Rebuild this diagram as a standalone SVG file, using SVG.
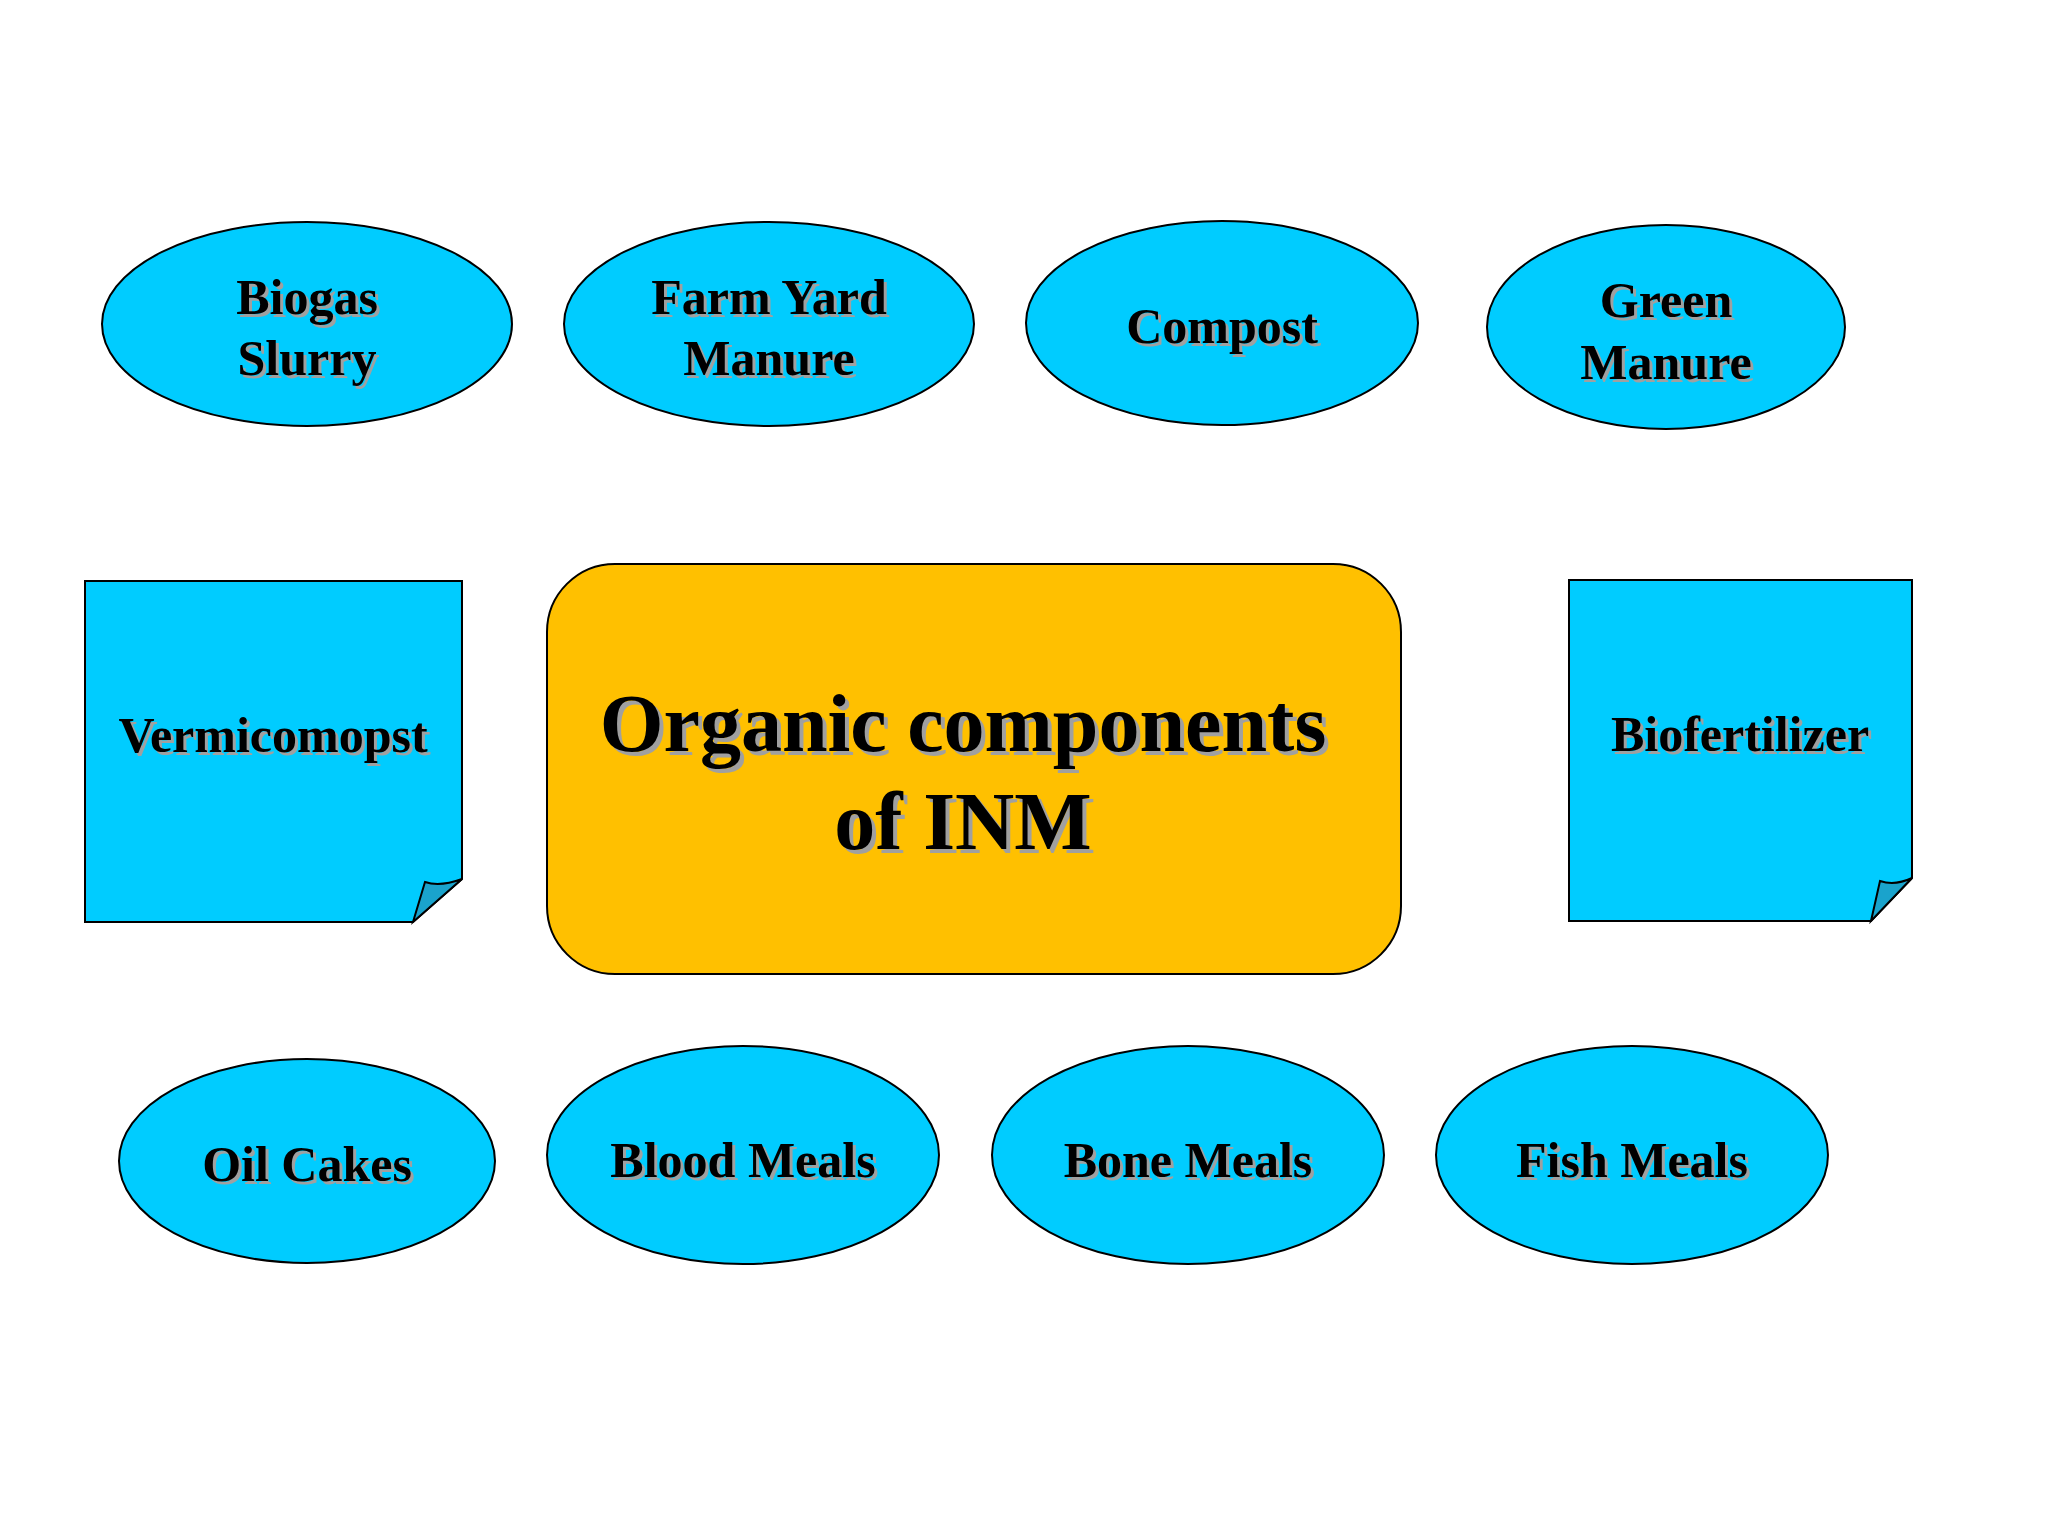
<svg xmlns="http://www.w3.org/2000/svg" width="2048" height="1536" viewBox="0 0 2048 1536">
<style>
.n{fill:#00ccff;stroke:#000;stroke-width:2}
.c{fill:#ffc000;stroke:#000;stroke-width:2}
.f{fill:#1aa3cc;stroke:#000;stroke-width:2}
text{font-family:"Liberation Serif","Times New Roman",serif;font-weight:bold;text-anchor:middle;fill:#000}
.s{fill:#a0a0a0}
.t{font-size:50px}
.b{font-size:82px}
</style>
<rect width="2048" height="1536" fill="#fff"/>
<g id="connectors"/>
<g id="biogas"><ellipse class="n" cx="307" cy="324" rx="205" ry="102"/>
<text class="t s" x="310" y="317">Biogas</text><text class="t" x="307" y="314">Biogas</text>
<text class="t s" x="310" y="378">Slurry</text><text class="t" x="307" y="375">Slurry</text></g>
<g id="fym"><ellipse class="n" cx="769" cy="324" rx="205" ry="102"/>
<text class="t s" x="772" y="317">Farm Yard</text><text class="t" x="769" y="314">Farm Yard</text>
<text class="t s" x="772" y="378">Manure</text><text class="t" x="769" y="375">Manure</text></g>
<g id="compost"><ellipse class="n" cx="1222" cy="323" rx="196" ry="102"/>
<text class="t s" x="1225" y="346">Compost</text><text class="t" x="1222" y="343">Compost</text></g>
<g id="green"><ellipse class="n" cx="1666" cy="327" rx="179" ry="102"/>
<text class="t s" x="1669" y="320">Green</text><text class="t" x="1666" y="317">Green</text>
<text class="t s" x="1669" y="382">Manure</text><text class="t" x="1666" y="379">Manure</text></g>
<g id="vermi"><path class="n" d="M85 581H462V879L413 922H85Z"/><path class="f" d="M413 922L425 882Q440 887 462 879Z"/>
<text class="t s" x="276" y="755">Vermicomopst</text><text class="t" x="273" y="752">Vermicomopst</text></g>
<g id="center"><rect class="c" x="547" y="564" width="854" height="410" rx="68"/>
<text class="b s" x="967" y="755">Organic components</text><text class="b" x="963" y="751">Organic components</text>
<text class="b s" x="967" y="853">of INM</text><text class="b" x="963" y="849">of INM</text></g>
<g id="biofert"><path class="n" d="M1569 580H1912V878L1871 921H1569Z"/><path class="f" d="M1871 921L1880 881Q1895 886 1912 878Z"/>
<text class="t s" x="1743" y="754">Biofertilizer</text><text class="t" x="1740" y="751">Biofertilizer</text></g>
<g id="oil"><ellipse class="n" cx="307" cy="1161" rx="188" ry="102"/>
<text class="t s" x="310" y="1184">Oil Cakes</text><text class="t" x="307" y="1181">Oil Cakes</text></g>
<g id="blood"><ellipse class="n" cx="743" cy="1155" rx="196" ry="109"/>
<text class="t s" x="746" y="1180">Blood Meals</text><text class="t" x="743" y="1177">Blood Meals</text></g>
<g id="bone"><ellipse class="n" cx="1188" cy="1155" rx="196" ry="109"/>
<text class="t s" x="1191" y="1180">Bone Meals</text><text class="t" x="1188" y="1177">Bone Meals</text></g>
<g id="fish"><ellipse class="n" cx="1632" cy="1155" rx="196" ry="109"/>
<text class="t s" x="1635" y="1180">Fish Meals</text><text class="t" x="1632" y="1177">Fish Meals</text></g>
</svg>
